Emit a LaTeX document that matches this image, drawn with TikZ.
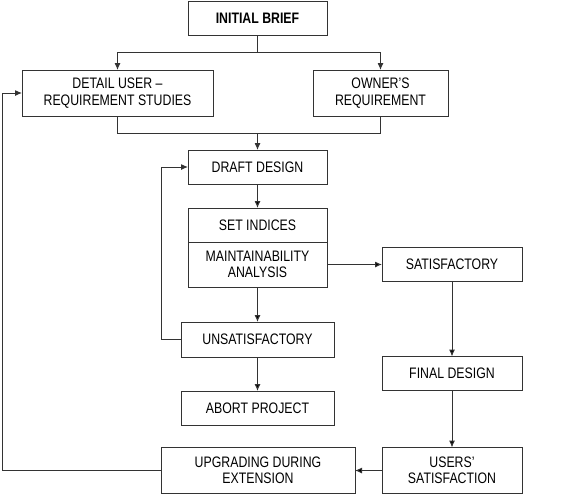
\documentclass[tikz,border=0pt]{standalone}
\usepackage{fontspec}
\setmainfont{Liberation Sans}[FakeStretch=0.81]
\usetikzlibrary{positioning,arrows.meta}

\definecolor{linegray}{HTML}{333333}

\begin{document}
\begin{tikzpicture}[x=1pt,y=-1pt,>={Latex[length=7pt,width=6pt]},line width=1pt,
    box/.style={draw=linegray,rectangle,align=center,inner sep=2pt,outer sep=0pt,minimum height=34pt,font=\fontsize{15.2}{16.5}\selectfont},
    link/.style={draw=linegray,->}]

            \useasboundingbox (0,0) rectangle (576,496);

            % top of the chart
            \node[box, minimum width=139pt]  (brief) at (257.5,18) {\textbf{INITIAL BRIEF}};
            \node[box, minimum width=191pt, minimum height=46pt]  (detail) at (117.5,93) {DETAIL USER –\\REQUIREMENT STUDIES};
            \node[box, minimum width=135pt, minimum height=46pt]  (owner) at (380.5,93) {OWNER’S\\REQUIREMENT};

            % middle column
            \node[box, minimum width=139pt]  (draft) [below = 115pt of brief]{DRAFT DESIGN};
            \node[box, minimum width=139pt]  (indices) [below = 24pt of draft]{SET INDICES};
            \node[box, minimum width=139pt, minimum height=45pt]  (maint) [below = 0pt of indices]{MAINTAINABILITY\\ANALYSIS};
            \node[box, minimum width=153pt, minimum height=35pt]  (unsat) [below = 35pt of maint]{UNSATISFACTORY};
            \node[box, minimum width=153pt]  (abort) [below = 34pt of unsat]{ABORT PROJECT};

            % right column
            \node[box, minimum width=140pt]  (satis) [right = 55pt of maint]{SATISFACTORY};
            \node[box, minimum width=140pt]  (final) [below = 75pt of satis]{FINAL DESIGN};
            \node[box, minimum width=140pt, minimum height=46pt]  (users) [below = 57pt of final]{USERS’\\SATISFACTION};
            \node[box, minimum width=194pt, minimum height=46pt]  (upgrade) [left = 27pt of users]{UPGRADING DURING\\EXTENSION};

            \path[link]
                (draft) edge (indices)
                (maint) edge (satis)
                (maint) edge (unsat)
                (unsat) edge (abort)
                (satis) edge (final)
                (final) edge (users)
                (users) edge (upgrade)
            ;
            \draw[link] (brief.south) -- ++(0,17) -| (detail.north);
            \draw[link] (brief.south) -- ++(0,17) -| (owner.north);
            \draw[draw=linegray] (detail.south) -- ++(0,17) -| (owner.south);
            \draw[link] (draft.north |- detail.south) ++(0,17) -- (draft.north);
            \draw[link] (unsat.west) -- ++(-20,0) |- (draft.west);
            \draw[link] (upgrade.west) -- ++(-159,0) |- (detail.west);
        \end{tikzpicture}
\end{document}
